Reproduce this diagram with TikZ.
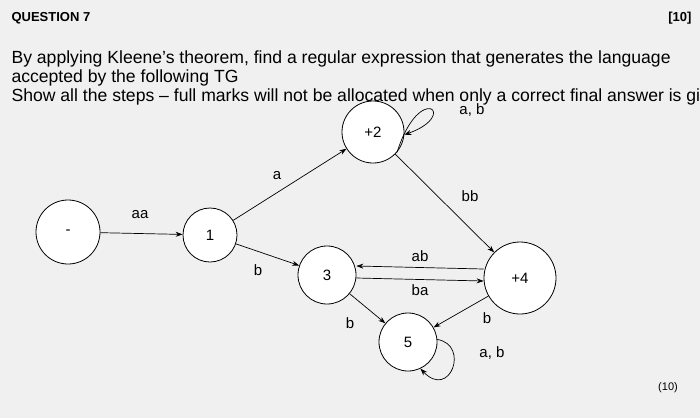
\documentclass[tikz,border=0pt]{standalone}
\usepackage{fontspec}
\setmainfont{Liberation Sans}
\usetikzlibrary{arrows.meta}
\begin{document}
\begin{tikzpicture}[x=1pt,y=-1pt,
  st/.style={circle,draw,line width=0.8pt,fill=white,inner sep=0pt},
  tr/.style={-{Stealth[length=7pt,width=5pt]},line width=0.7pt},
  lb/.style={font=\fontsize{15}{15}\selectfont},
  body/.style={font=\fontsize{17.6}{18}\selectfont,anchor=west}]
\fill[gray!12] (0,0) rectangle (700,418);
\useasboundingbox (0,0) rectangle (700,418);
\node[anchor=west,font=\bfseries\fontsize{13}{13}\selectfont] (q) at (8,18) {QUESTION 7};
\node[anchor=east,font=\bfseries\fontsize{13}{13}\selectfont] (m) at (695,18) {[10]};
\node[body] (t1) at (8,59) {By applying Kleene's theorem, find a regular expression that generates the language};
\node[body] (t2) at (8,78) {accepted by the following TG};
\node[body] (t3) at (8,97) {Show all the steps -- full marks will not be allocated when only a correct final answer is given};
\node[st,minimum size=64pt,lb] (s0) at (68,232) {-};
\node[st,minimum size=54pt,lb] (s1) at (210,235) {1};
\node[st,minimum size=62pt,lb] (s2) at (373,132) {+2};
\node[st,minimum size=58pt,lb] (s3) at (327,275) {3};
\node[st,minimum size=72pt,lb] (s4) at (520,278) {+4};
\node[st,minimum size=58pt,lb] (s5) at (408,342) {5};
\draw[tr] (s0) -- (s1);
\node[lb] (l01) at (140,215) {aa};
\draw[tr] (s1) -- (s2);
\node[lb] (l12) at (277,176) {a};
\draw[tr] (s1) -- (s3);
\node[lb] (l13) at (258,270) {b};
\draw[tr] (s2.-40) .. controls (420,80) and (460,115) .. (s2.-5);
\node[lb] (l22) at (472,110) {a, b};
\draw[tr] (s2) -- (s4);
\node[lb] (l24) at (470,196) {bb};
\draw[tr] ([yshift=9pt]s4.west) -- ([yshift=9pt]s3.east);
\node[lb] (l43) at (420,256) {ab};
\draw[tr] ([yshift=-3pt]s3.east) -- ([yshift=-3pt]s4.west);
\node[lb] (l34) at (420,290) {ba};
\draw[tr] (s3) -- (s5);
\node[lb] (l35) at (350,323) {b};
\draw[tr] (s5.5) .. controls (470,345) and (450,400) .. (s5.-65);
\node[lb] (l45) at (487,318) {b};
\draw[tr] (s4) -- (s5);
\node[lb] (l55) at (492,353) {a, b};
\node[font=\fontsize{11}{11}\selectfont] (pts) at (668,388) {(10)};
\end{tikzpicture}
\end{document}
